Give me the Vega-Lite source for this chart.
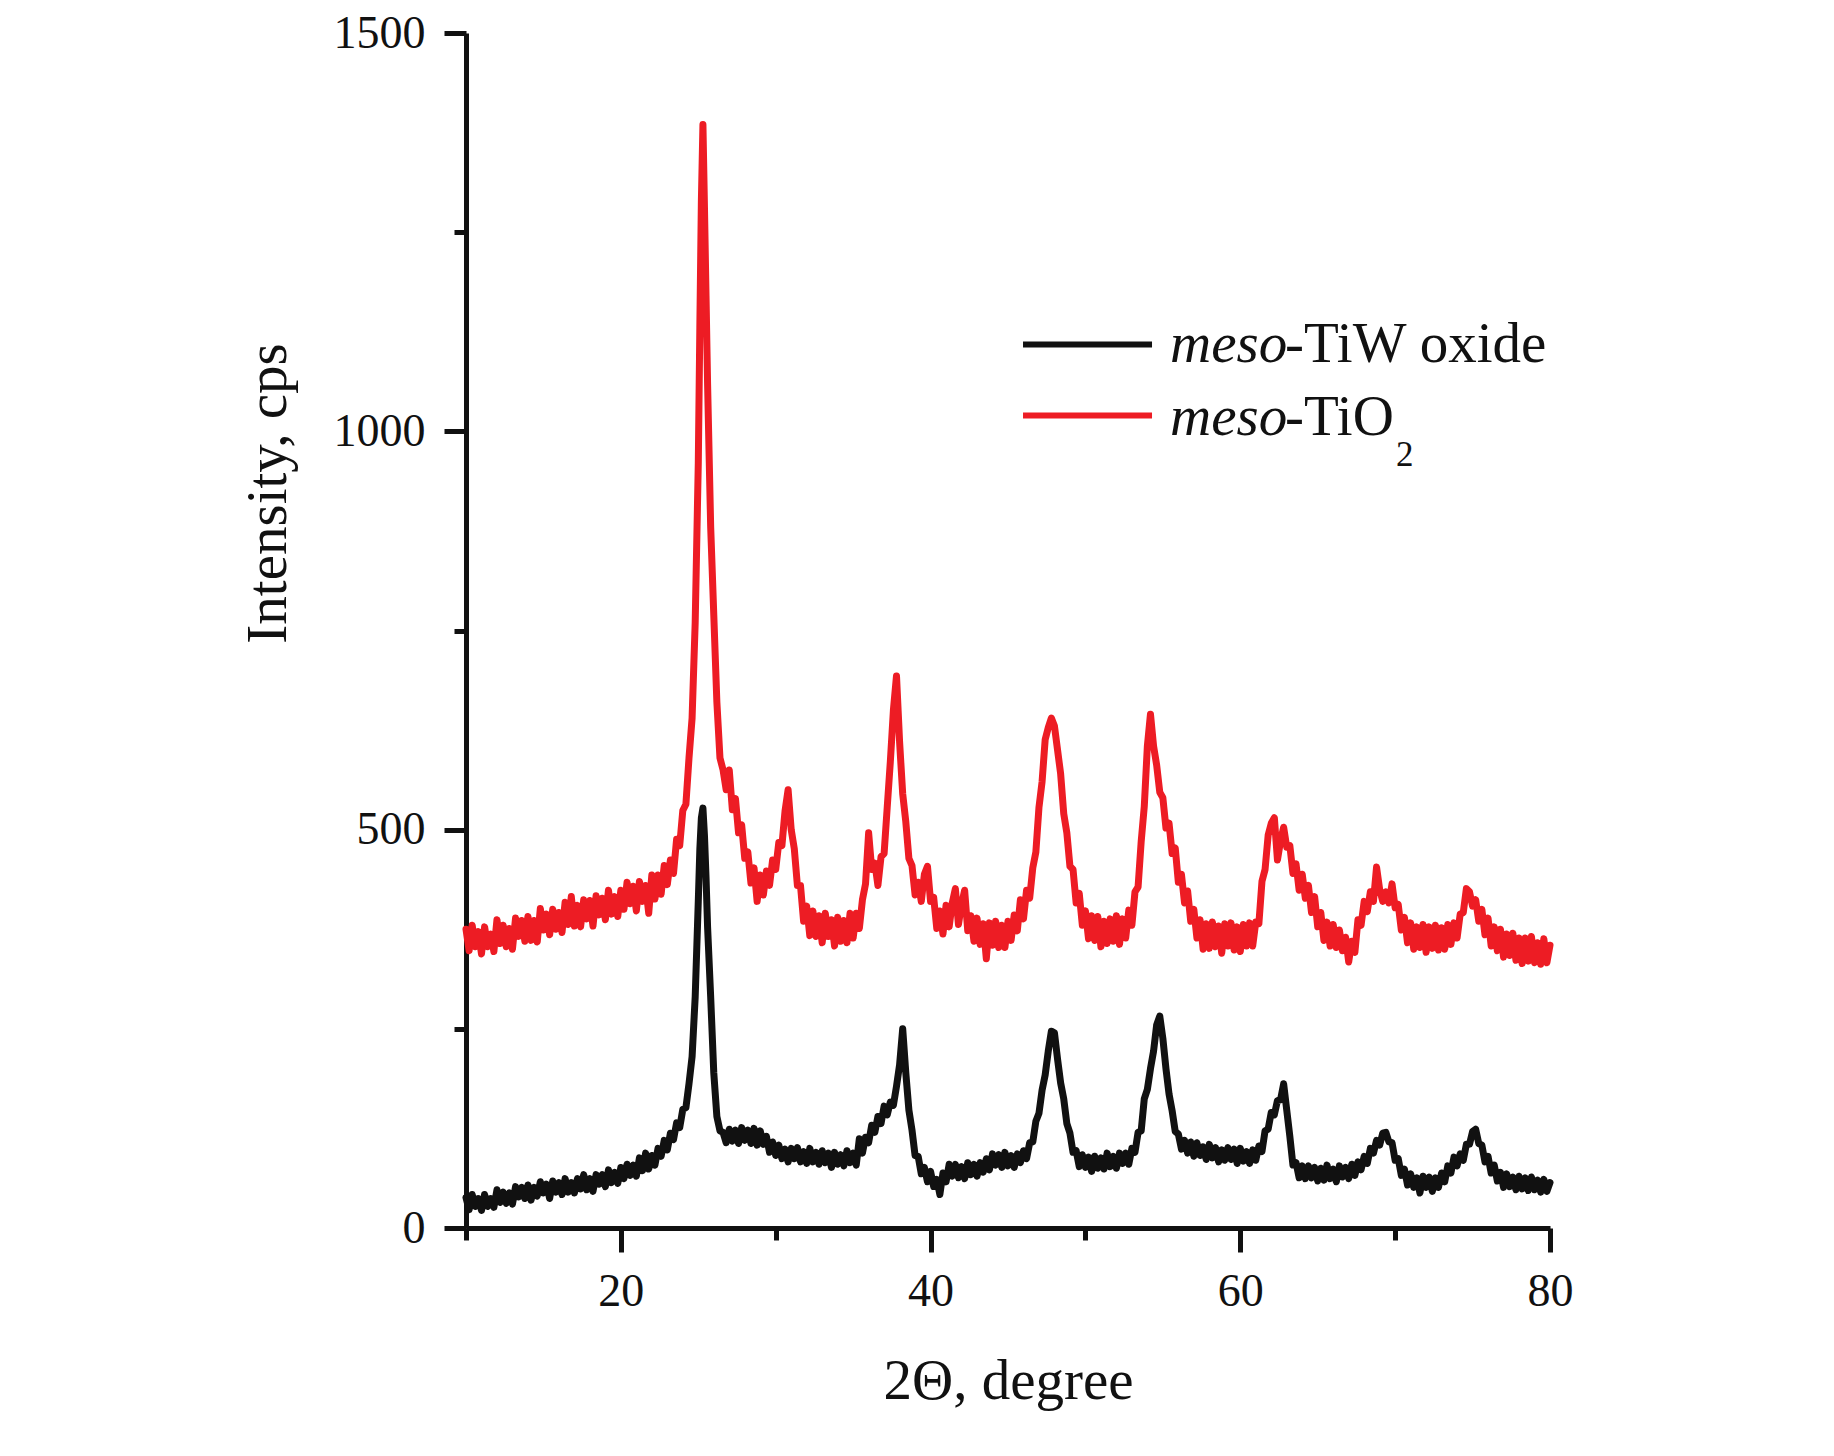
{
  "$schema": "https://vega.github.io/schema/vega-lite/v6.json",
  "width": 1084,
  "height": 1195,
  "autosize": {"type": "none"},
  "padding": {"left": 466, "top": 33, "right": 284, "bottom": 228},
  "background": "white",
  "config": {
    "view": {"stroke": null},
    "font": "Liberation Serif",
    "axis": {
      "grid": false,
      "domainColor": "#111111",
      "tickColor": "#111111",
      "labelColor": "#111111",
      "titleColor": "#111111",
      "domainWidth": 5,
      "tickWidth": 5,
      "labelFont": "Liberation Serif",
      "titleFont": "Liberation Serif",
      "titleFontWeight": "normal",
      "labelFlush": false,
      "labelOverlap": false,
      "labelBound": false,
      "format": "d"
    }
  },
  "datasets": {
    "xrd": [
      {"x":10.0,"w":38,"t":375},{"x":10.2,"w":23,"t":348},{"x":10.4,"w":42,"t":380},{"x":10.6,"w":27,"t":353},{"x":10.8,"w":37,"t":372},
      {"x":11.0,"w":22,"t":344},{"x":11.2,"w":42,"t":378},{"x":11.4,"w":27,"t":353},{"x":11.6,"w":37,"t":369},{"x":11.8,"w":26,"t":347},
      {"x":12.0,"w":48,"t":387},{"x":12.2,"w":32,"t":357},{"x":12.4,"w":45,"t":380},{"x":12.6,"w":31,"t":353},{"x":12.8,"w":44,"t":376},
      {"x":13.0,"w":30,"t":350},{"x":13.2,"w":52,"t":389},{"x":13.4,"w":39,"t":366},{"x":13.6,"w":51,"t":386},{"x":13.8,"w":37,"t":360},
      {"x":14.0,"w":54,"t":391},{"x":14.2,"w":35,"t":361},{"x":14.4,"w":51,"t":386},{"x":14.6,"w":40,"t":359},{"x":14.8,"w":58,"t":401},
      {"x":15.0,"w":44,"t":374},{"x":15.2,"w":55,"t":394},{"x":15.4,"w":37,"t":368},{"x":15.6,"w":59,"t":400},{"x":15.8,"w":45,"t":375},
      {"x":16.0,"w":57,"t":396},{"x":16.2,"w":42,"t":371},{"x":16.4,"w":62,"t":409},{"x":16.6,"w":45,"t":381},{"x":16.8,"w":57,"t":416},
      {"x":17.0,"w":44,"t":379},{"x":17.2,"w":62,"t":405},{"x":17.4,"w":49,"t":378},{"x":17.6,"w":67,"t":412},{"x":17.8,"w":48,"t":388},
      {"x":18.0,"w":62,"t":411},{"x":18.2,"w":46,"t":379},{"x":18.4,"w":67,"t":417},{"x":18.6,"w":55,"t":393},{"x":18.8,"w":67,"t":414},
      {"x":19.0,"w":52,"t":387},{"x":19.2,"w":73,"t":424},{"x":19.4,"w":57,"t":394},{"x":19.6,"w":70,"t":416},{"x":19.8,"w":56,"t":391},
      {"x":20.0,"w":76,"t":424},{"x":20.2,"w":62,"t":400},{"x":20.4,"w":80,"t":434},{"x":20.6,"w":66,"t":407},{"x":20.8,"w":79,"t":429},
      {"x":21.0,"w":65,"t":398},{"x":21.2,"w":88,"t":435},{"x":21.4,"w":72,"t":410},{"x":21.6,"w":94,"t":430},{"x":21.8,"w":74,"t":395},
      {"x":22.0,"w":91,"t":443},{"x":22.2,"w":79,"t":413},{"x":22.4,"w":100,"t":443},{"x":22.6,"w":90,"t":419},{"x":22.8,"w":110,"t":455},
      {"x":23.0,"w":98,"t":431},{"x":23.2,"w":119,"t":462},{"x":23.4,"w":111,"t":445},{"x":23.6,"w":132,"t":488},{"x":23.8,"w":126,"t":480},
      {"x":24.0,"w":149,"t":524},{"x":24.2,"w":151,"t":532},{"x":24.4,"w":181,"t":590},{"x":24.6,"w":215,"t":640},{"x":24.8,"w":290,"t":760},
      {"x":25.0,"w":410,"t":960},{"x":25.1,"w":475,"t":1130},{"x":25.2,"w":515,"t":1290},{"x":25.3,"w":527,"t":1385},{"x":25.4,"w":492,"t":1280},
      {"x":25.5,"w":440,"t":1170},{"x":25.6,"w":378,"t":1060},{"x":25.8,"w":290,"t":880},{"x":26.0,"w":195,"t":770},{"x":26.2,"w":140,"t":660},
      {"x":26.4,"w":122,"t":590},{"x":26.6,"w":120,"t":575},{"x":26.8,"w":107,"t":550},{"x":27.0,"w":124,"t":575},{"x":27.2,"w":109,"t":525},
      {"x":27.4,"w":123,"t":539},{"x":27.6,"w":106,"t":496},{"x":27.8,"w":126,"t":506},{"x":28.0,"w":110,"t":464},{"x":28.2,"w":123,"t":472},
      {"x":28.4,"w":106,"t":433},{"x":28.6,"w":125,"t":452},{"x":28.8,"w":104,"t":410},{"x":29.0,"w":122,"t":443},{"x":29.2,"w":105,"t":418},
      {"x":29.4,"w":115,"t":448},{"x":29.6,"w":95,"t":430},{"x":29.8,"w":108,"t":462},{"x":30.0,"w":91,"t":450},{"x":30.2,"w":104,"t":484},
      {"x":30.4,"w":87,"t":480},{"x":30.6,"w":99,"t":523},{"x":30.8,"w":83,"t":550},{"x":31.0,"w":100,"t":500},{"x":31.2,"w":87,"t":476},
      {"x":31.4,"w":101,"t":430},{"x":31.6,"w":83,"t":430},{"x":31.8,"w":96,"t":385},{"x":32.0,"w":81,"t":404},{"x":32.2,"w":100,"t":367},
      {"x":32.4,"w":83,"t":398},{"x":32.6,"w":95,"t":366},{"x":32.8,"w":80,"t":392},{"x":33.0,"w":97,"t":358},{"x":33.2,"w":82,"t":395},
      {"x":33.4,"w":94,"t":366},{"x":33.6,"w":76,"t":387},{"x":33.8,"w":95,"t":354},{"x":34.0,"w":80,"t":390},{"x":34.2,"w":92,"t":360},
      {"x":34.4,"w":78,"t":386},{"x":34.6,"w":97,"t":358},{"x":34.8,"w":82,"t":395},{"x":35.0,"w":94,"t":364},{"x":35.2,"w":79,"t":395},
      {"x":35.4,"w":112,"t":376},{"x":35.6,"w":94,"t":412},{"x":35.8,"w":114,"t":432},{"x":36.0,"w":107,"t":496},{"x":36.2,"w":129,"t":450},
      {"x":36.4,"w":120,"t":458},{"x":36.6,"w":140,"t":430},{"x":36.8,"w":131,"t":466},{"x":37.0,"w":153,"t":470},{"x":37.2,"w":142,"t":528},
      {"x":37.4,"w":158,"t":585},{"x":37.6,"w":154,"t":650},{"x":37.8,"w":178,"t":693},{"x":38.0,"w":205,"t":610},{"x":38.2,"w":250,"t":545},
      {"x":38.4,"w":195,"t":510},{"x":38.6,"w":148,"t":464},{"x":38.8,"w":123,"t":455},{"x":39.0,"w":91,"t":418},{"x":39.2,"w":90,"t":434},
      {"x":39.4,"w":68,"t":410},{"x":39.6,"w":76,"t":444},{"x":39.8,"w":58,"t":454},{"x":40.0,"w":71,"t":410},{"x":40.2,"w":52,"t":415},
      {"x":40.4,"w":61,"t":376},{"x":40.6,"w":42,"t":398},{"x":40.8,"w":69,"t":369},{"x":41.0,"w":58,"t":405},{"x":41.2,"w":80,"t":378},
      {"x":41.4,"w":65,"t":408},{"x":41.6,"w":80,"t":426},{"x":41.8,"w":63,"t":381},{"x":42.0,"w":77,"t":406},{"x":42.2,"w":62,"t":424},
      {"x":42.4,"w":82,"t":373},{"x":42.6,"w":67,"t":392},{"x":42.8,"w":80,"t":360},{"x":43.0,"w":65,"t":389},{"x":43.2,"w":82,"t":356},
      {"x":43.4,"w":70,"t":382},{"x":43.6,"w":87,"t":338},{"x":43.8,"w":73,"t":383},{"x":44.0,"w":93,"t":355},{"x":44.2,"w":79,"t":385},
      {"x":44.4,"w":92,"t":352},{"x":44.6,"w":76,"t":380},{"x":44.8,"w":95,"t":352},{"x":45.0,"w":78,"t":385},{"x":45.2,"w":91,"t":361},
      {"x":45.4,"w":76,"t":393},{"x":45.6,"w":93,"t":373},{"x":45.8,"w":82,"t":412},{"x":46.0,"w":97,"t":388},{"x":46.2,"w":87,"t":424},
      {"x":46.4,"w":107,"t":414},{"x":46.6,"w":108,"t":452},{"x":46.8,"w":134,"t":472},{"x":47.0,"w":144,"t":528},{"x":47.2,"w":173,"t":560},
      {"x":47.4,"w":192,"t":613},{"x":47.6,"w":222,"t":628},{"x":47.8,"w":247,"t":640},{"x":48.0,"w":245,"t":630},{"x":48.2,"w":212,"t":600},
      {"x":48.4,"w":182,"t":570},{"x":48.6,"w":162,"t":520},{"x":48.8,"w":131,"t":496},{"x":49.0,"w":119,"t":454},{"x":49.2,"w":95,"t":450},
      {"x":49.4,"w":97,"t":408},{"x":49.6,"w":77,"t":420},{"x":49.8,"w":92,"t":380},{"x":50.0,"w":76,"t":398},{"x":50.2,"w":89,"t":363},
      {"x":50.4,"w":71,"t":392},{"x":50.6,"w":90,"t":361},{"x":50.8,"w":75,"t":391},{"x":51.0,"w":88,"t":353},{"x":51.2,"w":74,"t":385},
      {"x":51.4,"w":94,"t":357},{"x":51.6,"w":77,"t":388},{"x":51.8,"w":90,"t":360},{"x":52.0,"w":75,"t":392},{"x":52.2,"w":94,"t":356},
      {"x":52.4,"w":81,"t":388},{"x":52.6,"w":94,"t":364},{"x":52.8,"w":80,"t":399},{"x":53.0,"w":100,"t":380},{"x":53.2,"w":95,"t":422},
      {"x":53.4,"w":120,"t":428},{"x":53.6,"w":122,"t":485},{"x":53.8,"w":162,"t":529},{"x":54.0,"w":174,"t":605},{"x":54.2,"w":200,"t":645},
      {"x":54.4,"w":222,"t":605},{"x":54.6,"w":255,"t":581},{"x":54.8,"w":266,"t":547},{"x":55.0,"w":238,"t":540},{"x":55.2,"w":200,"t":502},
      {"x":55.4,"w":168,"t":508},{"x":55.6,"w":147,"t":470},{"x":55.8,"w":121,"t":477},{"x":56.0,"w":118,"t":434},{"x":56.2,"w":99,"t":444},
      {"x":56.4,"w":110,"t":408},{"x":56.6,"w":94,"t":423},{"x":56.8,"w":108,"t":385},{"x":57.0,"w":90,"t":400},{"x":57.2,"w":107,"t":364},
      {"x":57.4,"w":91,"t":387},{"x":57.6,"w":102,"t":350},{"x":57.8,"w":86,"t":382},{"x":58.0,"w":105,"t":351},{"x":58.2,"w":88,"t":384},
      {"x":58.4,"w":101,"t":353},{"x":58.6,"w":83,"t":379},{"x":58.8,"w":98,"t":345},{"x":59.0,"w":85,"t":382},{"x":59.2,"w":101,"t":354},
      {"x":59.4,"w":86,"t":383},{"x":59.6,"w":99,"t":349},{"x":59.8,"w":81,"t":378},{"x":60.0,"w":100,"t":347},{"x":60.2,"w":84,"t":381},
      {"x":60.4,"w":96,"t":354},{"x":60.6,"w":81,"t":383},{"x":60.8,"w":98,"t":354},{"x":61.0,"w":85,"t":384},{"x":61.2,"w":103,"t":382},
      {"x":61.4,"w":96,"t":435},{"x":61.6,"w":122,"t":450},{"x":61.8,"w":124,"t":493},{"x":62.0,"w":145,"t":508},{"x":62.2,"w":142,"t":515},
      {"x":62.4,"w":160,"t":462},{"x":62.6,"w":161,"t":486},{"x":62.8,"w":181,"t":503},{"x":63.0,"w":148,"t":478},{"x":63.2,"w":115,"t":480},
      {"x":63.4,"w":79,"t":445},{"x":63.6,"w":82,"t":457},{"x":63.8,"w":63,"t":424},{"x":64.0,"w":78,"t":444},{"x":64.2,"w":62,"t":414},
      {"x":64.4,"w":78,"t":430},{"x":64.6,"w":63,"t":396},{"x":64.8,"w":76,"t":416},{"x":65.0,"w":59,"t":378},{"x":65.2,"w":75,"t":396},
      {"x":65.4,"w":60,"t":361},{"x":65.6,"w":79,"t":384},{"x":65.8,"w":62,"t":354},{"x":66.0,"w":74,"t":381},{"x":66.2,"w":58,"t":352},
      {"x":66.4,"w":78,"t":374},{"x":66.6,"w":64,"t":348},{"x":66.8,"w":76,"t":365},{"x":67.0,"w":62,"t":334},{"x":67.2,"w":80,"t":360},
      {"x":67.4,"w":66,"t":346},{"x":67.6,"w":83,"t":387},{"x":67.8,"w":73,"t":380},{"x":68.0,"w":90,"t":410},{"x":68.2,"w":81,"t":397},
      {"x":68.4,"w":100,"t":422},{"x":68.6,"w":94,"t":410},{"x":68.8,"w":110,"t":453},{"x":69.0,"w":104,"t":425},{"x":69.2,"w":119,"t":410},
      {"x":69.4,"w":120,"t":422},{"x":69.6,"w":108,"t":408},{"x":69.8,"w":107,"t":432},{"x":70.0,"w":85,"t":402},{"x":70.2,"w":87,"t":406},
      {"x":70.4,"w":66,"t":374},{"x":70.6,"w":74,"t":390},{"x":70.8,"w":54,"t":358},{"x":71.0,"w":68,"t":383},{"x":71.2,"w":51,"t":350},
      {"x":71.4,"w":63,"t":378},{"x":71.6,"w":44,"t":352},{"x":71.8,"w":65,"t":381},{"x":72.0,"w":51,"t":346},{"x":72.2,"w":64,"t":378},
      {"x":72.4,"w":46,"t":351},{"x":72.6,"w":63,"t":380},{"x":72.8,"w":51,"t":349},{"x":73.0,"w":69,"t":377},{"x":73.2,"w":58,"t":350},
      {"x":73.4,"w":78,"t":381},{"x":73.6,"w":69,"t":356},{"x":73.8,"w":89,"t":383},{"x":74.0,"w":78,"t":364},{"x":74.2,"w":93,"t":394},
      {"x":74.4,"w":85,"t":396},{"x":74.6,"w":105,"t":426},{"x":74.8,"w":105,"t":422},{"x":75.0,"w":121,"t":404},{"x":75.2,"w":124,"t":412},
      {"x":75.4,"w":106,"t":385},{"x":75.6,"w":104,"t":400},{"x":75.8,"w":83,"t":368},{"x":76.0,"w":90,"t":389},{"x":76.2,"w":69,"t":354},
      {"x":76.4,"w":79,"t":378},{"x":76.6,"w":59,"t":348},{"x":76.8,"w":70,"t":375},{"x":77.0,"w":51,"t":340},{"x":77.2,"w":68,"t":369},
      {"x":77.4,"w":52,"t":342},{"x":77.6,"w":64,"t":370},{"x":77.8,"w":48,"t":336},{"x":78.0,"w":65,"t":364},{"x":78.2,"w":49,"t":332},
      {"x":78.4,"w":63,"t":364},{"x":78.6,"w":47,"t":335},{"x":78.8,"w":64,"t":366},{"x":79.0,"w":48,"t":333},{"x":79.2,"w":60,"t":358},
      {"x":79.4,"w":45,"t":331},{"x":79.6,"w":61,"t":363},{"x":79.8,"w":46,"t":333},{"x":80.0,"w":57,"t":355}
    ]
  },
  "resolve": {"axis": {"x": "independent", "y": "independent"}},
  "layer": [
    {
      "data": {"name": "xrd"},
      "mark": {"type": "line", "color": "#ED1C24", "strokeWidth": 7, "strokeJoin": "round", "strokeCap": "round"},
      "encoding": {
        "x": {
          "field": "x", "type": "quantitative",
          "scale": {"domain": [10, 80], "nice": false, "zero": false},
          "axis": {
            "orient": "bottom", "values": [20, 40, 60, 80], "tickSize": 24,
            "labelFontSize": 46, "labelBaseline": "alphabetic", "labelPadding": 53,
            "title": "2Θ, degree", "titleFontSize": 57, "titleBaseline": "alphabetic", "titleY": 170
          }
        },
        "y": {
          "field": "t", "type": "quantitative",
          "scale": {"domain": [0, 1500], "nice": false},
          "axis": {
            "orient": "left", "values": [0, 500, 1000, 1500], "tickSize": 22,
            "labelFontSize": 46, "labelPadding": 19,
            "title": "Intensity, cps", "titleFontSize": 57, "titleAngle": 270,
            "titleBaseline": "alphabetic", "titleAlign": "center", "titleX": -181, "titleY": 460
          }
        }
      }
    },
    {
      "data": {"name": "xrd"},
      "mark": {"type": "line", "color": "#111111", "strokeWidth": 7, "strokeJoin": "round", "strokeCap": "round"},
      "encoding": {
        "x": {"field": "x", "type": "quantitative", "scale": {"domain": [10, 80], "nice": false, "zero": false}, "axis": null},
        "y": {"field": "w", "type": "quantitative", "scale": {"domain": [0, 1500], "nice": false}, "axis": null}
      }
    },
    {
      "data": {"values": [{}]},
      "mark": {"type": "rule", "color": "#111111", "strokeWidth": 6},
      "encoding": {
        "x": {
          "datum": 45.97, "type": "quantitative",
          "scale": {"domain": [10, 80], "nice": false, "zero": false},
          "axis": {"orient": "bottom", "values": [10, 30, 50, 70], "tickSize": 12, "labels": false, "domain": false, "title": null}
        },
        "x2": {"datum": 54.3},
        "y": {
          "datum": 1109, "type": "quantitative",
          "scale": {"domain": [0, 1500], "nice": false},
          "axis": {"orient": "left", "values": [250, 750, 1250], "tickSize": 12, "labels": false, "domain": false, "title": null}
        }
      }
    },
    {
      "data": {"values": [{}]},
      "mark": {"type": "rule", "color": "#ED1C24", "strokeWidth": 6},
      "encoding": {
        "x": {"datum": 45.97, "type": "quantitative", "scale": {"domain": [10, 80], "nice": false, "zero": false}, "axis": null},
        "x2": {"datum": 54.3},
        "y": {"datum": 1020, "type": "quantitative", "scale": {"domain": [0, 1500], "nice": false}, "axis": null}
      }
    },
    {
      "data": {"values": [{}]},
      "mark": {"type": "text", "text": "meso", "font": "Liberation Serif", "fontStyle": "italic", "fontSize": 57, "align": "left", "baseline": "alphabetic", "color": "#111111"},
      "encoding": {
        "x": {"datum": 55.46, "type": "quantitative", "scale": {"domain": [10, 80], "nice": false, "zero": false}, "axis": null},
        "y": {"datum": 1087, "type": "quantitative", "scale": {"domain": [0, 1500], "nice": false}, "axis": null}
      }
    },
    {
      "data": {"values": [{}]},
      "mark": {"type": "text", "text": "-TiW oxide", "font": "Liberation Serif", "fontSize": 57, "align": "left", "baseline": "alphabetic", "color": "#111111"},
      "encoding": {
        "x": {"datum": 62.89, "type": "quantitative", "scale": {"domain": [10, 80], "nice": false, "zero": false}, "axis": null},
        "y": {"datum": 1087, "type": "quantitative", "scale": {"domain": [0, 1500], "nice": false}, "axis": null}
      }
    },
    {
      "data": {"values": [{}]},
      "mark": {"type": "text", "text": "meso", "font": "Liberation Serif", "fontStyle": "italic", "fontSize": 57, "align": "left", "baseline": "alphabetic", "color": "#111111"},
      "encoding": {
        "x": {"datum": 55.46, "type": "quantitative", "scale": {"domain": [10, 80], "nice": false, "zero": false}, "axis": null},
        "y": {"datum": 996, "type": "quantitative", "scale": {"domain": [0, 1500], "nice": false}, "axis": null}
      }
    },
    {
      "data": {"values": [{}]},
      "mark": {"type": "text", "text": "-TiO", "font": "Liberation Serif", "fontSize": 57, "align": "left", "baseline": "alphabetic", "color": "#111111"},
      "encoding": {
        "x": {"datum": 62.89, "type": "quantitative", "scale": {"domain": [10, 80], "nice": false, "zero": false}, "axis": null},
        "y": {"datum": 996, "type": "quantitative", "scale": {"domain": [0, 1500], "nice": false}, "axis": null}
      }
    },
    {
      "data": {"values": [{}]},
      "mark": {"type": "text", "text": "2", "font": "Liberation Serif", "fontSize": 35, "align": "left", "baseline": "alphabetic", "color": "#111111"},
      "encoding": {
        "x": {"datum": 70.05, "type": "quantitative", "scale": {"domain": [10, 80], "nice": false, "zero": false}, "axis": null},
        "y": {"datum": 956, "type": "quantitative", "scale": {"domain": [0, 1500], "nice": false}, "axis": null}
      }
    }
  ]
}
